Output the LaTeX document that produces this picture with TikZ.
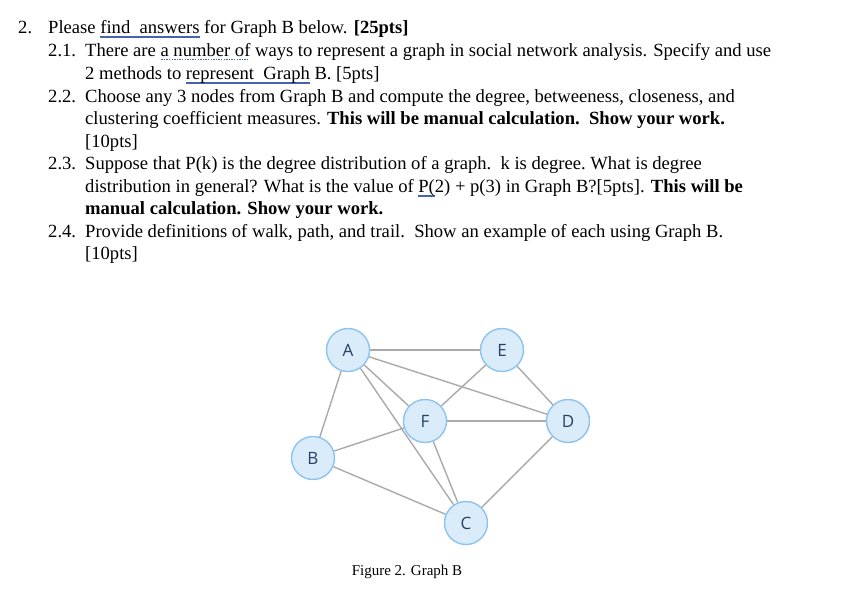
\documentclass[tikz,border=0pt]{standalone}
\usepackage{fontspec}
\setmainfont{Liberation Serif}
\newfontfamily\nodefont{Open Sans}
\usepackage{xcolor}
\definecolor{ulblue}{RGB}{70,100,170}
\definecolor{nodefill}{RGB}{218,236,250}
\definecolor{nodedraw}{RGB}{140,195,240}
\definecolor{nodetext}{RGB}{40,65,100}
\definecolor{edgegray}{RGB}{170,170,170}
\newsavebox{\ulbox}
\newcommand{\bluu}[1]{\sbox{\ulbox}{#1}\rlap{\textcolor{ulblue}{\rule[-2.2pt]{\wd\ulbox}{0.5pt}}}\rlap{\textcolor{ulblue}{\rule[-3.8pt]{\wd\ulbox}{0.5pt}}}\usebox{\ulbox}}
\newcommand{\bluedot}[1]{\sbox{\ulbox}{#1}\rlap{\textcolor{ulblue}{\hbox to \wd\ulbox{\leaders\hbox to 2.6pt{\hss\rule[-3pt]{1.4pt}{0.9pt}\hss}\hfill}}}\usebox{\ulbox}}
\pgfdeclarelayer{bg}
\pgfsetlayers{bg,main}
\begin{document}
\begin{tikzpicture}[x=1pt,y=-1pt,
  txt/.style={anchor=base west,inner sep=0pt,font=\fontsize{18.6}{20}\selectfont},
  gnode/.style={circle,minimum size=43pt,inner sep=0pt,fill=nodefill,draw=nodedraw,line width=1.4pt,text=nodetext,font=\nodefont\fontsize{17}{18}\selectfont},
  edge/.style={draw=edgegray,line width=1.4pt}]
\useasboundingbox (0,0) rectangle (842,609);
\node[txt] (n2) at (18,34) {2.};
\node[txt] (l1) at (48,34) {Please \bluu{find\ \ answers} for Graph B below. \textbf{[25pts]}};
\node[txt] (n21) at (48,57) {2.1.};
\node[txt] (l2) at (85,57) {There are \bluedot{a number of} ways to represent a graph in social network analysis. Specify and use};
\node[txt] (l3) at (85,80) {2 methods to \bluu{represent\ \ Graph} B. [5pts]};
\node[txt] (n22) at (48,103) {2.2.};
\node[txt] (l4) at (85,103) {Choose any 3 nodes from Graph B and compute the degree, betweeness, closeness, and};
\node[txt] (l5) at (85,125) {clustering coefficient measures. \textbf{This will be manual calculation.\ \ Show your work.}};
\node[txt] (l6) at (85,148) {[10pts]};
\node[txt] (n23) at (48,170) {2.3.};
\node[txt] (l7) at (85,170) {Suppose that P(k) is the degree distribution of a graph.\ \ k is degree.\ What is degree};
\node[txt] (l8) at (85,193) {distribution in general? What is the value of \bluu{P(}2) + p(3) in Graph B?[5pts]. \textbf{This will be}};
\node[txt] (l9) at (85,215) {\textbf{manual calculation. Show your work.}};
\node[txt] (n24) at (48,238) {2.4.};
\node[txt] (l10) at (85,238) {Provide definitions of walk, path, and trail.\ \ Show an example of each using Graph B.};
\node[txt] (l11) at (85,260) {[10pts]};
\node[gnode] (A) at (348,350) {A};
\node[gnode] (E) at (502,350) {E};
\node[gnode] (F) at (425,421) {F};
\node[gnode] (D) at (568,421) {D};
\node[gnode] (B) at (313,458) {B};
\node[gnode] (C) at (466,523) {C};
\begin{pgfonlayer}{bg}
\draw[edge] (A) -- (E);
\draw[edge] (A) -- (B);
\draw[edge] (A) -- (F);
\draw[edge] (A) -- (C);
\draw[edge] (A) -- (D);
\draw[edge] (E) -- (F);
\draw[edge] (E) -- (D);
\draw[edge] (F) -- (D);
\draw[edge] (F) -- (B);
\draw[edge] (F) -- (C);
\draw[edge] (B) -- (C);
\draw[edge] (C) -- (D);
\end{pgfonlayer}
\node[anchor=base,inner sep=0pt,font=\fontsize{15}{16}\selectfont] (cap) at (407,575) {Figure 2. Graph B};
\end{tikzpicture}
\end{document}
